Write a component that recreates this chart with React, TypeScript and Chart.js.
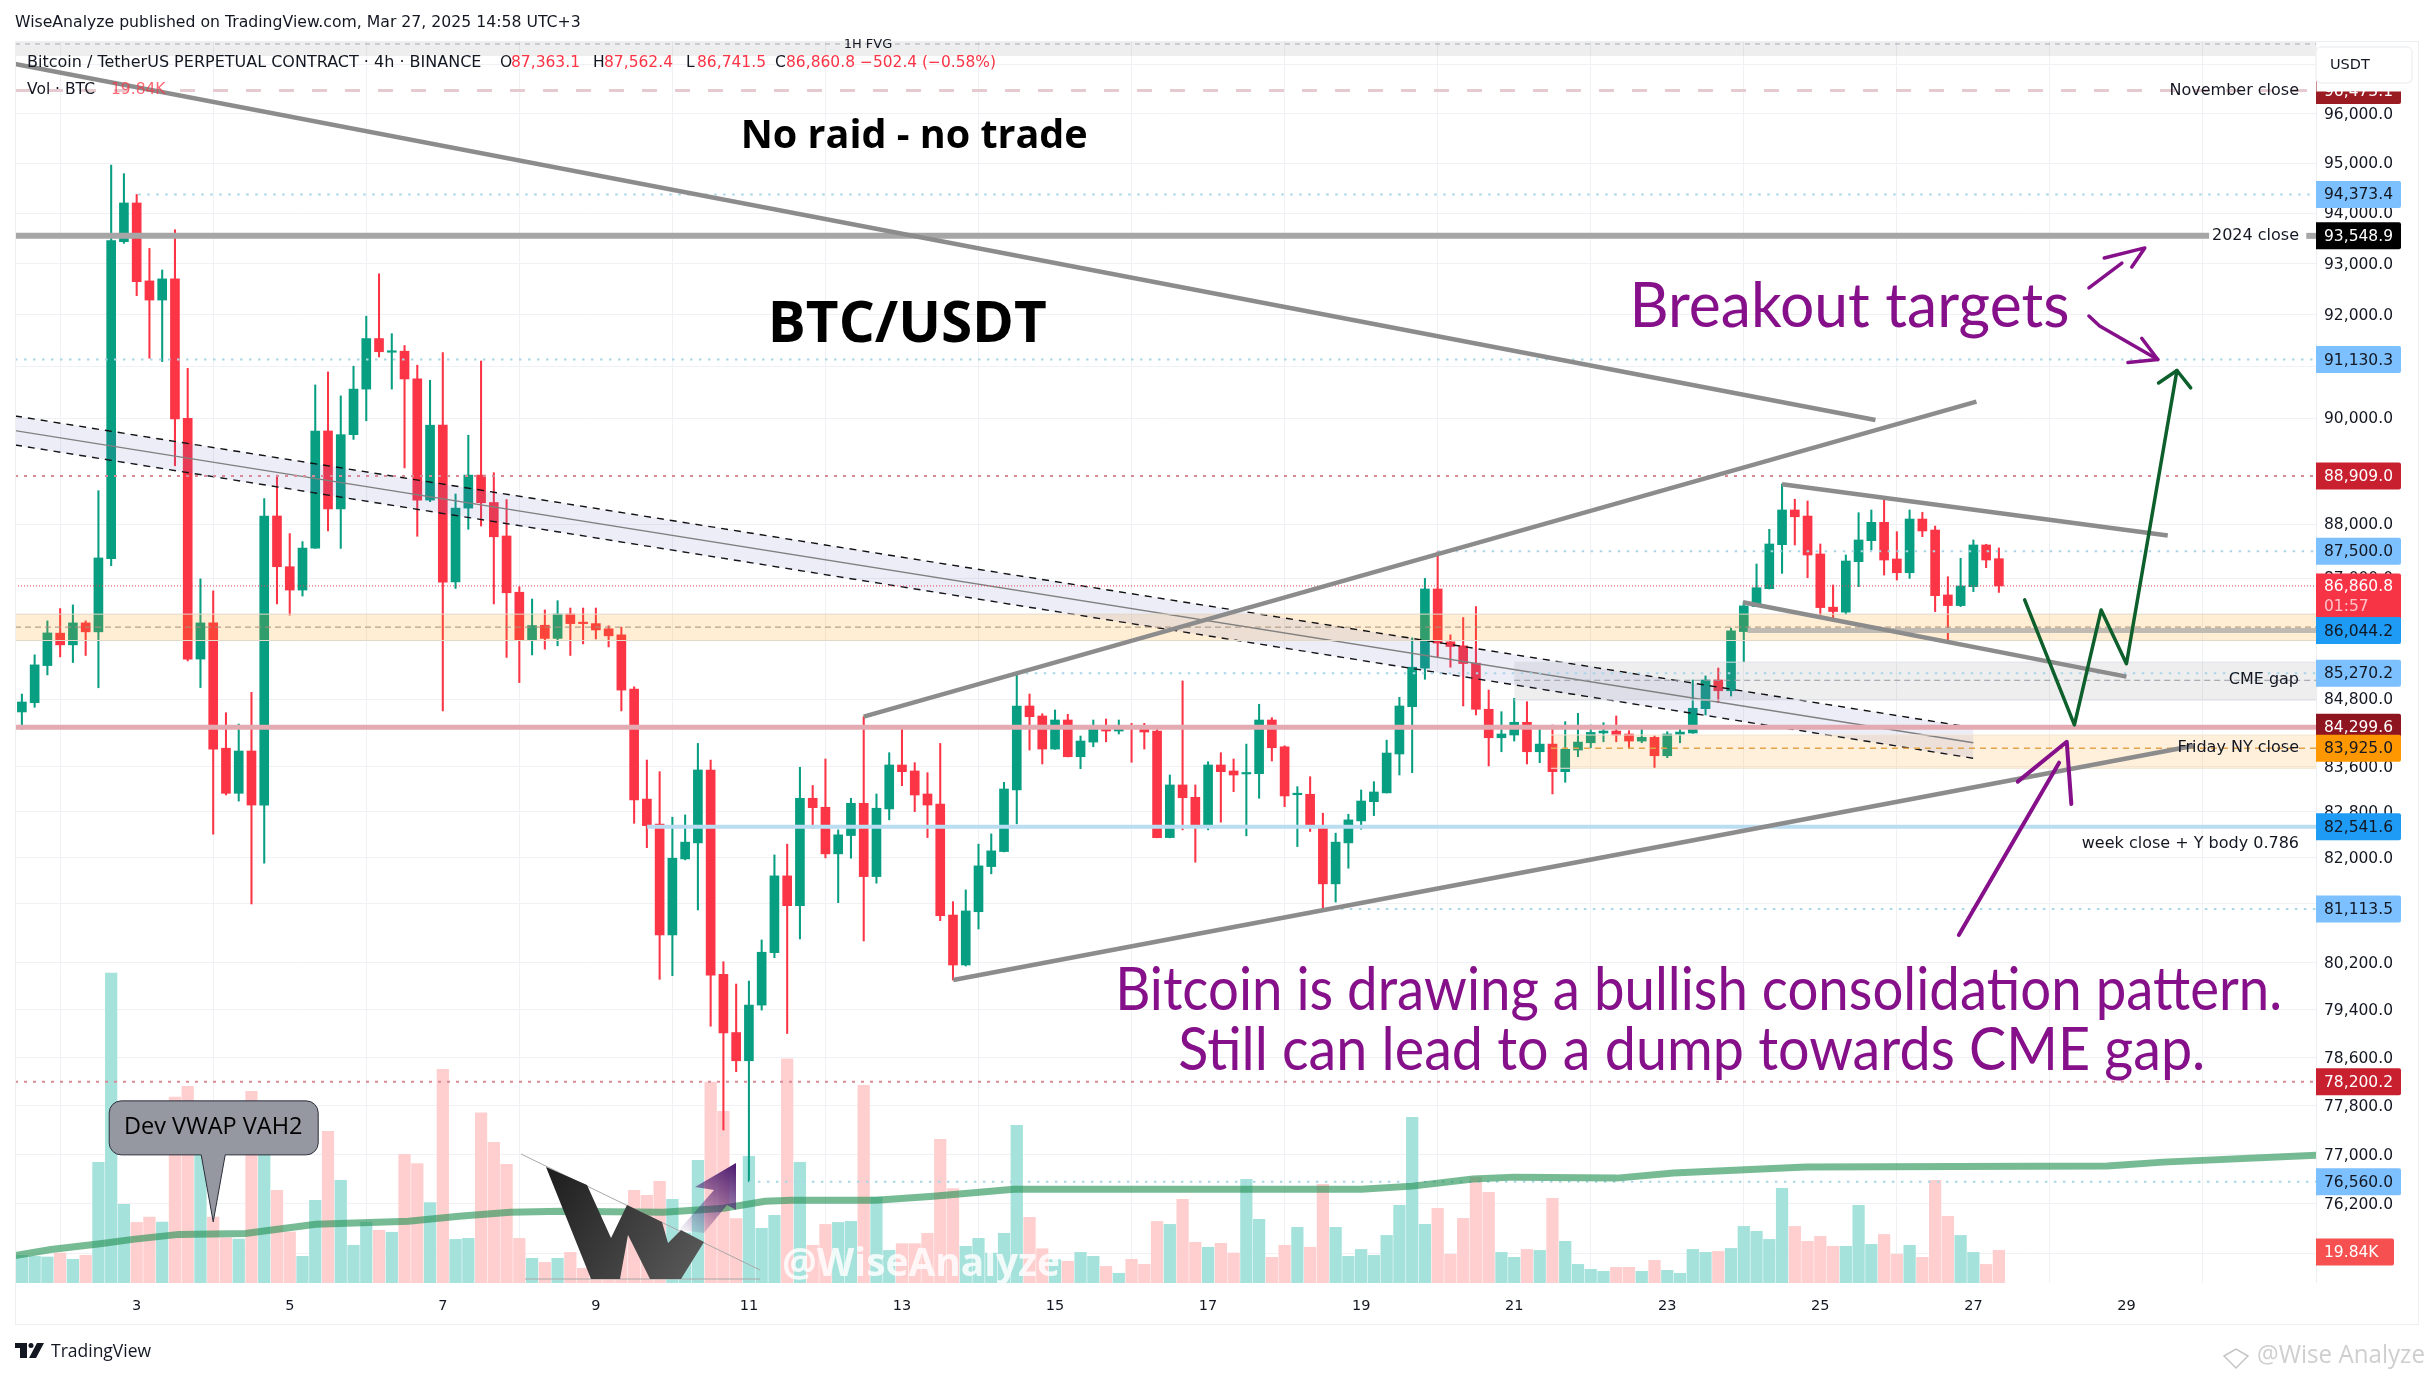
import React, { useEffect, useRef } from 'react'
import { Chart, registerables } from 'chart.js'

Chart.register(...registerables)

const FIRST_BAR_DAY = 1.5
const DAY_MIN = 1.41
const DAY_MAX = 31.477
const PRICE_MIN = 74934
const PRICE_MAX = 97492
const VOLUME_MAX = 754.3

const dayTicks = [3, 5, 7, 9, 11, 13, 15, 17, 19, 21, 23, 25, 27, 29]
const priceTicks = [97000, 96000, 95000, 94000, 93000, 92000, 91000, 90000, 88000, 87000, 84800, 83600, 82800, 82000, 81200, 80200, 79400, 78600, 77800, 77000, 76200, 75400]

const opens = [
  84572, 84738, 85407, 85996, 85783, 86183, 86020, 87365, 93434, 94203,
  92660, 92285, 92700, 90000, 85525, 86183, 83925, 83127, 83875, 82920,
  88158, 87215, 86785, 87560, 89760, 88290, 89690, 90560, 91535, 91270,
  91290, 90755, 88455, 89870, 86935, 88305, 88925, 88410, 87785, 86745,
  85860, 86140, 85900, 86345, 86190, 86170, 86075, 85965, 84985, 83025,
  82585, 80669, 81979, 82258, 83539, 79998, 79018, 78547, 79479, 80367,
  81685, 81171, 83039, 82881, 82067, 82386, 82951, 81673, 82852, 83627,
  83521, 83115, 82939, 81010, 80157, 81067, 81846, 82107, 83186, 84679,
  84500, 83910, 84428, 83774, 84034, 84280, 84231, 84303, 84280, 84231,
  82351, 83274, 83056, 82525, 83627, 83521, 83468, 83473, 84428, 83950,
  83102, 83110, 82532, 81547, 82258, 82642, 82979, 83134, 83822, 84667,
  85360, 86805, 85838, 85765, 85451, 84620, 84111, 84160, 84387, 83862,
  83998, 83509, 83892, 84022, 84196, 84231, 84178, 84052, 84118, 83791,
  84172, 84196, 84631, 85147, 84953, 86025, 86482, 86810, 87623, 88270,
  88157, 87451, 86471, 86380, 87308, 87698, 88039, 87358, 87104, 88101,
  87896, 86695, 86500, 86847, 87618, 87363.1,
]
const highs = [
  84894, 85602, 86220, 86445, 86512, 86220, 88632, 94960, 94790, 94373,
  93300, 92875, 93670, 90960, 86990, 86770, 84558, 84355, 84925, 88482,
  88925, 87830, 87680, 90640, 90890, 90430, 91000, 91970, 92800, 91630,
  91400, 91020, 90730, 91265, 88570, 89680, 91100, 88970, 88465, 86845,
  86620, 86420, 86590, 86455, 86455, 86455, 86130, 86105, 85025, 83715,
  83509, 82707, 82747, 84010, 83716, 80213, 79834, 79885, 80583, 82049,
  82236, 83587, 83265, 83733, 82485, 83039, 84487, 83115, 83845, 84292,
  83668, 83491, 84010, 81240, 81443, 82236, 82415, 83320, 85269, 84894,
  84541, 84608, 84531, 84142, 84428, 84446, 84428, 84369, 84369, 84280,
  83450, 85130, 83274, 83685, 83845, 83733, 83998, 84710, 84470, 83968,
  83244, 83420, 82777, 82428, 82759, 83186, 83332, 84069, 84835, 85911,
  87000, 87494, 85965, 86281, 86482, 84966, 84577, 84817, 84756, 84308,
  84339, 84398, 84548, 84339, 84380, 84500, 84237, 84280, 84147, 84219,
  84298, 85147, 85220, 85363, 86087, 86573, 87265, 87909, 88758, 88471,
  88439, 87636, 86878, 87432, 88219, 88270, 88490, 87865, 88270, 88227,
  87970, 87030, 87371, 87711, 87631, 87562.4,
]
const lows = [
  84264, 84656, 85238, 85565, 85462, 85590, 85007, 87234, 93400, 92370,
  91153, 91090, 89100, 85490, 85010, 82410, 83097, 82990, 81200, 81905,
  86530, 86325, 86675, 87555, 87880, 87555, 89600, 89955, 91180, 90560,
  89060, 87780, 88425, 84590, 86815, 87910, 87970, 86530, 85555, 85100,
  85600, 85705, 85765, 85590, 85800, 85890, 85745, 84590, 82600, 82175,
  79914, 79975, 81962, 81097, 79125, 77403, 78365, 76558, 79395, 80281,
  79002, 80601, 82515, 81997, 81223, 81991, 80566, 81559, 82660, 83261,
  82805, 82351, 80913, 79902, 80140, 80771, 81720, 82101, 82590, 83892,
  83645, 83905, 83770, 83562, 83950, 84039, 84178, 83675, 83910, 82346,
  82346, 82485, 81922, 82485, 82620, 83155, 82381, 83039, 83698, 82892,
  82194, 82456, 81097, 81233, 81818, 82497, 82735, 83132, 83450, 83491,
  85160, 85560, 85378, 84679, 84518, 83610, 83862, 84052, 83645, 83668,
  83115, 83321, 83774, 83933, 84039, 84039, 83922, 84022, 83580, 83756,
  84022, 84190, 84518, 84738, 84858, 85475, 86480, 86805, 87093, 87618,
  87011, 86299, 86240, 86343, 86847, 87525, 87061, 86969, 87000, 87772,
  86390, 85825, 86482, 86756, 87197, 86741.5,
]
const closes = [
  84751, 85420, 86000, 85783, 86183, 86020, 87377, 93454, 94203, 92645,
  92285, 92700, 89990, 85525, 86183, 83910, 83127, 83875, 82920, 88158,
  87215, 86785, 87560, 89760, 88290, 89690, 90560, 91535, 91280, 91290,
  90755, 88455, 89870, 86930, 88305, 88925, 88405, 87770, 86735, 85860,
  86135, 85900, 86345, 86170, 86170, 86055, 85947, 84965, 83010, 82560,
  80669, 81991, 82271, 83539, 79986, 79012, 78547, 79479, 80374, 81685,
  81171, 83039, 82874, 82067, 82398, 82951, 81673, 82864, 83627, 83509,
  83097, 82921, 80998, 80157, 81080, 81858, 82119, 83203, 84679, 84487,
  83910, 84428, 83774, 84053, 84280, 84231, 84298, 84294, 84213, 82351,
  83274, 83049, 82525, 83627, 83509, 83450, 83478, 84428, 83933, 83080,
  83115, 82525, 81547, 82271, 82660, 82991, 83150, 83839, 84679, 85378,
  86805, 85815, 85753, 85444, 84620, 84111, 84178, 84387, 83862, 83998,
  83509, 83905, 84034, 84206, 84231, 84160, 84052, 84118, 83791, 84178,
  84213, 84638, 85147, 84953, 86038, 86494, 86828, 87636, 88270, 88143,
  87432, 86463, 86391, 87321, 87711, 88039, 87339, 87104, 88101, 87878,
  86682, 86500, 86859, 87618, 87339, 86860.8,
]
// thousands of BTC
const volumes = [
  16.8, 16.2, 15.8, 18.2, 14.4, 16.8, 73.3, 188.2, 47.8, 36.8,
  40.1, 37.0, 112.9, 119.4, 78.9, 40.1, 27.5, 26.7, 116.4, 78.5,
  56.3, 31.0, 16.2, 50.2, 92.1, 62.3, 22.9, 37.0, 32.0, 30.8,
  78.1, 72.5, 48.8, 129.7, 26.5, 27.1, 103.4, 85.4, 72.1, 27.1,
  15.0, 12.5, 15.0, 18.6, 8.9, 19.8, 15.8, 27.9, 56.3, 53.2,
  61.7, 50.8, 30.4, 74.5, 122.0, 104.2, 39.1, 76.9, 33.2, 41.1,
  136.2, 73.3, 22.9, 35.6, 36.8, 37.4, 120.0, 52.2, 19.8, 23.9,
  23.9, 30.2, 87.2, 57.3, 22.3, 27.1, 18.2, 30.2, 95.7, 39.9,
  20.8, 14.2, 13.2, 18.6, 16.2, 10.1, 5.9, 14.4, 11.3, 37.4,
  35.6, 50.8, 24.7, 21.7, 24.1, 18.2, 62.9, 38.7, 15.6, 22.9,
  33.8, 21.7, 59.9, 33.8, 16.2, 20.4, 16.8, 28.9, 47.2, 100.6,
  35.6, 45.3, 17.4, 39.3, 64.4, 55.1, 18.6, 15.6, 20.4, 19.8,
  51.4, 25.3, 11.3, 8.3, 7.1, 9.5, 9.5, 7.1, 13.8, 7.7,
  5.9, 20.4, 18.6, 19.2, 21.0, 34.4, 31.4, 26.5, 57.5, 34.4,
  25.3, 28.3, 22.3, 22.3, 47.2, 23.5, 29.5, 17.4, 22.9, 15.6,
  62.3, 40.5, 28.9, 18.6, 11.3, 19.84,
]

const vwapDays = [1.41, 1.88, 2.55, 2.95, 3.55, 4.42, 4.74, 5.34, 6.55, 7.21, 7.88, 8.55, 9.88, 10.67, 11.21, 11.55, 12.66, 13.41, 14.46, 19.0, 19.67, 20.46, 21.0, 22.34, 23.08, 24.81, 28.75, 29.48, 31.48]
const vwapPrices = [75372, 75469, 75565, 75630, 75710, 75726, 75775, 75871, 75920, 76000, 76064, 76081, 76064, 76130, 76244, 76260, 76260, 76325, 76439, 76439, 76488, 76602, 76634, 76618, 76700, 76797, 76813, 76878, 76992]

// [day, price] pairs drawn on the chart by the author
const trendTop = [[1.41, 97018], [25.72, 89970]]
const wedgeUpper = [[12.5, 84487], [27.04, 90319]]
const wedgeLower = [[13.67, 79902], [29.88, 83970]]
const flagUpper = [[24.5, 88752], [29.54, 87794]]
const flagLower = [[23.99, 86562], [29.0, 85207]]
const channelTop = [[1.41, 90046], [27.0, 84290]]
const channelMid = [[1.41, 89766], [27.0, 84021]]
const channelBottom = [[1.41, 89495], [27.0, 83746]]
const greenPath = [[27.67, 86604], [28.32, 84340], [28.67, 86420], [29.0, 85440], [29.66, 90918]]
const greenHead = [[29.42, 90678], [29.66, 90918], [29.84, 90582]]
const purpleUp = [[26.81, 80669], [28.12, 83668]]
const purpleUpHead = [[27.58, 83332], [28.22, 84039], [28.28, 82939]]
const breakoutUp = [[28.51, 92522], [28.94, 93010]]
const breakoutUpHead = [[28.71, 93111], [29.24, 93310], [29.07, 92933]]
const breakoutDown = [[28.51, 91973], [28.65, 91780], [29.41, 91130]]
const breakoutDownHead = [[29.2, 91540], [29.41, 91130], [29.02, 91070]]

const NOVEMBER_CLOSE = 96473.1
const YEAR_CLOSE = 93548.9
const LAST_PRICE = 86860.8
const GAP_FILL = 86044.2
const CME_LEVEL = 85270.2
const WEEK_OPEN = 84299.6
const FRIDAY_CLOSE = 83925
const WEEK_CLOSE = 82541.6

const priceTags = [
  { value: NOVEMBER_CLOSE, text: '96,473.1', bg: '#9A1B22', fg: '#fff' },
  { value: 94373.4, text: '94,373.4', bg: '#7CC0FF', fg: '#131722' },
  { value: YEAR_CLOSE, text: '93,548.9', bg: '#000', fg: '#fff' },
  { value: 91130.3, text: '91,130.3', bg: '#7CC0FF', fg: '#131722' },
  { value: 88909, text: '88,909.0', bg: '#C9202F', fg: '#fff' },
  { value: 87500, text: '87,500.0', bg: '#7CC0FF', fg: '#131722' },
  { value: CME_LEVEL, text: '85,270.2', bg: '#7CC0FF', fg: '#131722' },
  { value: WEEK_OPEN, text: '84,299.6', bg: '#8E1420', fg: '#fff' },
  { value: FRIDAY_CLOSE, text: '83,925.0', bg: '#FF9800', fg: '#131722' },
  { value: WEEK_CLOSE, text: '82,541.6', bg: '#1E9BF5', fg: '#131722' },
  { value: 81113.5, text: '81,113.5', bg: '#7CC0FF', fg: '#131722' },
  { value: 78200.2, text: '78,200.2', bg: '#C9202F', fg: '#fff' },
  { value: 76560, text: '76,560.0', bg: '#7CC0FF', fg: '#131722' },
]

const rightNotes = [
  { text: 'November close', price: NOVEMBER_CLOSE },
  { text: '2024 close', price: YEAR_CLOSE },
  { text: 'CME gap', price: 85150 },
  { text: 'Friday NY close', price: FRIDAY_CLOSE },
  { text: 'week close + Y body 0.786', price: 82240 },
]

const GREEN = '#089E82'
const RED = '#FB3446'
const GREEN_VOL = '#A6E2DC'
const RED_VOL = '#FFCFCF'
const DOT_BLUE = '#A9D6E6'
const DOT_RED = '#D98A96'
const PURPLE = '#85108A'
const DARK_GREEN = '#0D5F2B'
const GRID = '#EFF1F4'

const barDays = closes.map((_, i) => FIRST_BAR_DAY + i / 6)
const isUp = closes.map((c, i) => c >= opens[i])

const pts = (pairs: number[][]) => pairs.map(([x, y]) => ({ x, y }))

const poly = (pairs: number[][], color: string, width: number, order: number, extra = {}) => ({
  type: 'line',
  data: pts(pairs),
  borderColor: color,
  borderWidth: width,
  pointRadius: 0,
  tension: 0,
  fill: false,
  order,
  ...extra,
})

const level = (price: number, from: number, color: string, width: number, dash: number[], order = 22, to = DAY_MAX) =>
  poly([[from, price], [to, price]], color, width, order, { borderDash: dash })

const band = (hi: number, lo: number, from: number, color: string) =>
  poly([[from, hi], [DAY_MAX, hi]], 'rgba(0,0,0,0)', 0, 30, { fill: { value: lo }, backgroundColor: color })

const buildDatasets = () => [
  {
    type: 'bar',
    yAxisID: 'vol',
    data: barDays.map((x, i) => ({ x, y: volumes[i] })),
    backgroundColor: isUp.map((u) => (u ? GREEN_VOL : RED_VOL)),
    barThickness: 11.6,
    grouped: false,
    order: 100,
  },
  {
    type: 'bar',
    data: barDays.map((x, i) => ({ x, y: [lows[i], highs[i]] })),
    backgroundColor: isUp.map((u) => (u ? GREEN : RED)),
    barThickness: 1.4,
    grouped: false,
    order: 50,
  },
  {
    type: 'bar',
    data: barDays.map((x, i) => ({ x, y: [opens[i], closes[i]] })),
    backgroundColor: isUp.map((u) => (u ? GREEN : RED)),
    barThickness: 9,
    minBarLength: 1.5,
    grouped: false,
    order: 40,
  },
  // zones
  band(PRICE_MAX, 97183, DAY_MIN, 'rgba(120,123,134,0.13)'),
  band(86343, 85862, DAY_MIN, 'rgba(255,152,0,0.17)'),
  band(85469, 84787, 21.0, 'rgba(120,123,134,0.13)'),
  band(84160, 83569, 21.48, 'rgba(255,152,0,0.14)'),
  poly(channelTop, '#111', 1.4, 28, { borderDash: [7, 6], fill: '+1', backgroundColor: 'rgba(110,110,200,0.12)' }),
  poly(channelBottom, '#111', 1.4, 29, { borderDash: [7, 6] }),
  poly(channelMid, '#808080', 1.4, 27),
  // levels
  level(97431, DAY_MIN, '#A9ABB3', 1, [5, 5]),
  level(86343, DAY_MIN, '#E2D8C8', 1, []),
  level(85862, DAY_MIN, '#E2D8C8', 1, []),
  level(86106, DAY_MIN, '#A58F78', 1, [6, 4]),
  level(GAP_FILL, 24.05, '#BFBAB2', 5, []),
  level(85142, 21.0, '#9598A1', 1, [6, 4]),
  level(85469, 21.0, '#DDDFE6', 1, []),
  level(84787, 21.0, '#DDDFE6', 1, []),
  level(84160, 21.48, '#F1E4D2', 1, []),
  level(83569, 21.48, '#F1E4D2', 1, []),
  level(FRIDAY_CLOSE, 21.48, '#E3A34A', 1.5, [6, 5]),
  level(NOVEMBER_CLOSE, DAY_MIN, '#E5CBCF', 3, [15, 18]),
  level(YEAR_CLOSE, DAY_MIN, '#A6A6A6', 6, [], 22, 30.08),
  level(YEAR_CLOSE, 31.35, '#A6A6A6', 6, [], 22, DAY_MAX),
  level(94373.4, 3.02, DOT_BLUE, 2, [2.5, 6.5]),
  level(91130.3, DAY_MIN, DOT_BLUE, 2, [2.5, 6.5]),
  level(88909, DAY_MIN, DOT_RED, 2, [3, 6]),
  level(87500, 20.0, DOT_BLUE, 2, [2.5, 6.5]),
  level(LAST_PRICE, DAY_MIN, '#E0414F', 1, [1, 2]),
  level(CME_LEVEL, 14.5, DOT_BLUE, 2, [2.5, 6.5]),
  level(WEEK_OPEN, DAY_MIN, '#E3AAB2', 5, []),
  level(WEEK_CLOSE, 9.67, '#BBDDF2', 4, []),
  level(81113.5, 18.5, DOT_BLUE, 2, [2.5, 6.5]),
  level(78200.2, DAY_MIN, DOT_RED, 2, [3, 6]),
  level(76560, 11.0, DOT_BLUE, 2, [2.5, 6.5]),
  // vwap
  poly(vwapDays.map((d, i) => [d, vwapPrices[i]]), 'rgba(36,145,84,0.62)', 7, 15),
  // trend lines
  poly(trendTop, '#8C8C8C', 4.5, 10),
  poly(wedgeUpper, '#8C8C8C', 4.5, 10),
  poly(wedgeLower, '#8C8C8C', 4.5, 10),
  poly(flagUpper, '#8C8C8C', 4.5, 10),
  poly(flagLower, '#8C8C8C', 4.5, 10),
  // hand drawn arrows
  poly(greenPath, DARK_GREEN, 3.5, 5, { borderCapStyle: 'round', borderJoinStyle: 'round' }),
  poly(greenHead, DARK_GREEN, 3.5, 5, { borderCapStyle: 'round', borderJoinStyle: 'round' }),
  poly(purpleUp, PURPLE, 4, 5, { borderCapStyle: 'round' }),
  poly(purpleUpHead, PURPLE, 4, 5, { borderCapStyle: 'round', borderJoinStyle: 'round' }),
  poly(breakoutUp, PURPLE, 3.5, 5, { borderCapStyle: 'round' }),
  poly(breakoutUpHead, PURPLE, 3.5, 5, { borderCapStyle: 'round', borderJoinStyle: 'round' }),
  poly(breakoutDown, PURPLE, 3.5, 5, { borderCapStyle: 'round', borderJoinStyle: 'round' }),
  poly(breakoutDownHead, PURPLE, 3.5, 5, { borderCapStyle: 'round', borderJoinStyle: 'round' }),
]

const TAG_FONT = '15.5px "DejaVu Sans"'
const UI_FONT = '15.5px "DejaVu Sans"'
const NOTE_FONT = '16px "DejaVu Sans"'

const put = (ctx: any, text: string, x: number, y: number, font: string, color: string, align = 'left', maxWidth?: number) => {
  ctx.font = font
  ctx.fillStyle = color
  ctx.textAlign = align
  ctx.textBaseline = 'middle'
  if (maxWidth) ctx.fillText(text, x, y, maxWidth)
  else ctx.fillText(text, x, y)
}

const shape = (ctx: any, points: number[][]) => {
  ctx.beginPath()
  points.forEach(([x, y], i) => (i ? ctx.lineTo(x, y) : ctx.moveTo(x, y)))
  ctx.closePath()
}

const tag = (ctx: any, yc: number, text: string, bg: string, fg: string, width = 85) => {
  const left = 2316
  ctx.fillStyle = bg
  ctx.beginPath()
  ctx.roundRect(left, yc - 13.5, width, 27, [0, 2, 2, 0])
  ctx.fill()
  put(ctx, text, left + 8, yc + 1, TAG_FONT, fg)
}

const overlay = {
  id: 'overlay',
  afterDraw(chart: any) {
    const { ctx, scales, chartArea } = chart
    const xAt = (d: number) => scales.x.getPixelForValue(d)
    const yAt = (p: number) => scales.y.getPixelForValue(p)
    ctx.save()

    // panel frame
    ctx.strokeStyle = '#ECEEF2'
    ctx.lineWidth = 1
    ctx.strokeRect(15.5, 41.5, 2403, 1283)
    ctx.beginPath()
    ctx.moveTo(chartArea.right + 0.5, 41)
    ctx.lineTo(chartArea.right + 0.5, chartArea.bottom)
    ctx.stroke()

    // header
    put(ctx, 'WiseAnalyze published on TradingView.com, Mar 27, 2025 14:58 UTC+3', 15, 23, '15.7px "DejaVu Sans"', '#131722', 'left', 570)
    put(ctx, '1H FVG', 868, 45, '13px "DejaVu Sans"', '#131722', 'center')
    put(ctx, 'Bitcoin / TetherUS PERPETUAL CONTRACT · 4h · BINANCE', 27, 63, '16px "DejaVu Sans"', '#131722', 'left', 461)
    const ohlc = [
      ['O', '87,363.1', 500],
      ['H', '87,562.4', 593],
      ['L', '86,741.5', 686],
      ['C', '86,860.8', 775],
    ]
    ohlc.forEach(([k, v, x]: any) => {
      put(ctx, k, x, 63, UI_FONT, '#131722')
      put(ctx, v, x + 11, 63, UI_FONT, RED, 'left', 72)
    })
    put(ctx, '−502.4 (−0.58%)', 860, 63, UI_FONT, RED, 'left', 136)
    put(ctx, 'Vol · BTC', 27, 90, UI_FONT, '#131722', 'left', 73)
    put(ctx, '19.84K', 111, 90, UI_FONT, 'rgba(251,52,70,0.75)', 'left', 57)

    // notes
    put(ctx, 'No raid - no trade', xAt(13.16), yAt(95535), 'bold 40px "Open Sans"', '#000', 'center', 347)
    put(ctx, 'BTC/USDT', xAt(13.07), yAt(91790), 'bold 58px "Open Sans"', '#000', 'center', 279)
    put(ctx, 'Breakout targets', xAt(25.38), yAt(92149), '62px Lato', PURPLE, 'center', 440)
    put(ctx, 'Bitcoin is drawing a bullish consolidation pattern.', xAt(23.41), yAt(79716), '60px Lato', PURPLE, 'center', 1167)
    put(ctx, 'Still can lead to a dump towards CME gap.', xAt(23.32), yAt(78708), '60px Lato', PURPLE, 'center', 1027)
    rightNotes.forEach((n) => put(ctx, n.text, chartArea.right - 17, yAt(n.price), NOTE_FONT, '#131722', 'right'))

    // Dev VWAP VAH2 callout
    const tipX = xAt(4.0)
    const tipY = yAt(75911)
    const top = tipY - 121
    ctx.fillStyle = '#9598A1'
    ctx.strokeStyle = '#2A2E39'
    ctx.lineWidth = 1
    ctx.beginPath()
    ctx.moveTo(tipX - 104, top + 12)
    ctx.arcTo(tipX - 104, top, tipX - 92, top, 12)
    ctx.arcTo(tipX + 105, top, tipX + 105, top + 12, 12)
    ctx.arcTo(tipX + 105, top + 54, tipX + 93, top + 54, 12)
    ctx.lineTo(tipX + 12, top + 54)
    ctx.lineTo(tipX, tipY)
    ctx.lineTo(tipX - 12, top + 54)
    ctx.arcTo(tipX - 104, top + 54, tipX - 104, top + 42, 12)
    ctx.closePath()
    ctx.fill()
    ctx.stroke()
    put(ctx, 'Dev VWAP VAH2', tipX, top + 26, '23.5px "Open Sans"', '#000', 'center', 180)

    // W logo watermark
    ctx.strokeStyle = '#A8A8A8'
    ctx.lineWidth = 1
    ctx.beginPath()
    ctx.moveTo(521, 1154)
    ctx.lineTo(760, 1270)
    ctx.moveTo(525, 1279)
    ctx.lineTo(760, 1279)
    ctx.stroke()
    const wGrad = ctx.createLinearGradient(546, 1170, 704, 1270)
    wGrad.addColorStop(0, '#1D1D1D')
    wGrad.addColorStop(1, '#5A5A5A')
    ctx.fillStyle = wGrad
    shape(ctx, [[546, 1167], [587, 1185], [611, 1238], [627, 1205], [662, 1222], [668, 1243], [681, 1230], [704, 1242], [681, 1279], [650, 1279], [628, 1235], [620, 1279], [591, 1279]])
    ctx.fill()
    const arrowGrad = ctx.createLinearGradient(680, 1235, 736, 1165)
    arrowGrad.addColorStop(0, 'rgba(75,26,110,0)')
    arrowGrad.addColorStop(1, '#4B1A6E')
    ctx.fillStyle = arrowGrad
    shape(ctx, [[679, 1230], [714, 1190], [695, 1187], [736, 1163], [736, 1210], [727, 1205], [704, 1233]])
    ctx.fill()
    put(ctx, '@WiseAnalyze', 921, 1265, 'bold 40px "Open Sans"', 'rgba(255,255,255,0.82)', 'center', 278)

    // axis tags, the later ones cover the earlier ones
    priceTags.forEach((t) => tag(ctx, yAt(t.value), t.text, t.bg, t.fg))

    // last price tag with countdown
    const lastY = yAt(LAST_PRICE)
    ctx.fillStyle = '#F73446'
    ctx.beginPath()
    ctx.roundRect(2316, lastY - 12.5, 85, 45, [0, 2, 0, 0])
    ctx.fill()
    put(ctx, '86,860.8', 2324, lastY + 1, TAG_FONT, '#fff')
    put(ctx, '01:57', 2324, lastY + 21, TAG_FONT, 'rgba(255,255,255,0.7)')
    tag(ctx, yAt(GAP_FILL), '86,044.2', '#1E9BF5', '#131722')

    // volume tag
    tag(ctx, 1252, '19.84K', '#F65050', '#fff', 78)

    // USDT box hides the top of the axis
    ctx.fillStyle = '#fff'
    ctx.fillRect(2316.5, 42, 101, 49.5)
    ctx.strokeStyle = '#EFF1F4'
    ctx.lineWidth = 1.5
    ctx.beginPath()
    ctx.roundRect(2316, 47, 96, 36, 5)
    ctx.fill()
    ctx.stroke()
    put(ctx, 'USDT', 2330, 65.5, '14.5px "DejaVu Sans"', '#131722')

    // footer
    ctx.fillStyle = '#131722'
    ctx.fillRect(15, 1343, 12, 5)
    ctx.fillRect(20, 1343, 7, 15)
    ctx.beginPath()
    ctx.arc(31, 1345.5, 2.5, 0, Math.PI * 2)
    ctx.fill()
    shape(ctx, [[37, 1343], [44, 1343], [36, 1358], [29, 1358]])
    ctx.fill()
    put(ctx, 'TradingView', 51, 1352, '17.5px "Open Sans"', '#131722', 'left', 105)
    ctx.strokeStyle = '#C4C4C4'
    ctx.lineWidth = 1.5
    shape(ctx, [[2224, 1356], [2236, 1349], [2248, 1356], [2236, 1368]])
    ctx.stroke()
    put(ctx, '@Wise Analyze', 2257, 1356, '26px "Open Sans"', '#CFCFCF', 'left', 168)
    ctx.restore()
  },
}

const App = () => {
  const canvasRef = useRef<HTMLCanvasElement>(null)

  useEffect(() => {
    const ctx = canvasRef.current?.getContext('2d')
    if (!ctx) return
    const chart = new Chart(ctx, {
      type: 'bar',
      data: { datasets: buildDatasets() as any },
      options: {
        animation: false,
        responsive: false,
        devicePixelRatio: 1,
        layout: { padding: { left: 15, top: 41, right: 15, bottom: 53 } },
        plugins: { legend: { display: false }, tooltip: { enabled: false } },
        scales: {
          x: {
            type: 'linear',
            min: DAY_MIN,
            max: DAY_MAX,
            offset: false,
            afterBuildTicks: (s: any) => { s.ticks = dayTicks.map((value) => ({ value })) },
            afterFit: (s: any) => { s.height = 42 },
            grid: { color: GRID, drawTicks: false },
            border: { display: false },
            ticks: {
              autoSkip: false,
              maxRotation: 0,
              padding: 15,
              color: '#131722',
              font: { family: 'DejaVu Sans', size: 14.5 },
              callback: (v: any) => String(v),
            },
          },
          y: {
            type: 'logarithmic',
            position: 'right',
            min: PRICE_MIN,
            max: PRICE_MAX,
            afterBuildTicks: (s: any) => { s.ticks = priceTicks.map((value) => ({ value })) },
            afterFit: (s: any) => { s.width = 102 },
            grid: { color: GRID, drawTicks: false },
            border: { display: false },
            ticks: {
              autoSkip: false,
              padding: 8,
              labelOffset: 1,
              color: '#131722',
              font: { family: 'DejaVu Sans', size: 15.5 },
              callback: (v: any) => Number(v).toLocaleString('en-US', { minimumFractionDigits: 1 }),
            },
          },
          vol: {
            type: 'linear',
            display: false,
            min: 0,
            max: VOLUME_MAX,
          },
        },
      },
      plugins: [overlay],
    })
    return () => chart.destroy()
  }, [])

  return (
    <div style={{ position: 'absolute', left: 0, top: 0 }}>
      <canvas ref={canvasRef} width={2433} height={1378} style={{ display: 'block' }} />
    </div>
  )
}

export default App
